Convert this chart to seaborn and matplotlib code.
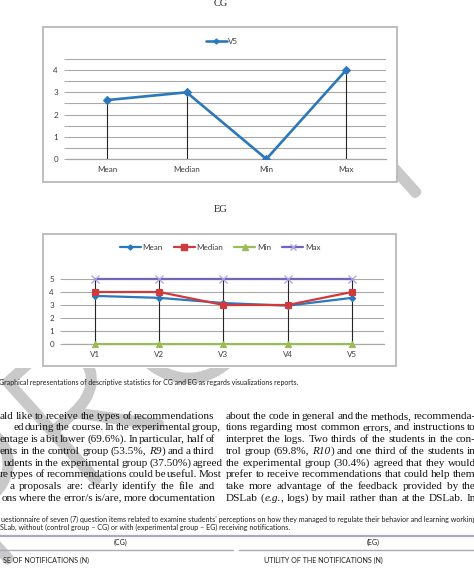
import numpy as np
import pandas as pd
import matplotlib
matplotlib.use("Agg")
import matplotlib.pyplot as plt
import matplotlib.patheffects as pe
import seaborn as sns
from matplotlib.patches import Rectangle, Polygon
from matplotlib.lines import Line2D

# ---------------- data ----------------
cg_categories = ["Mean", "Median", "Min", "Max"]
cg_v5 = [2.65, 3.0, 0.0, 4.0]
cg_yticks = [0, 1, 2, 3, 4]

eg_items = ["V1", "V2", "V3", "V4", "V5"]
eg_mean = [3.7, 3.55, 3.15, 2.95, 3.55]
eg_median = [4, 4, 3, 3, 4]
eg_min = [0, 0, 0, 0, 0]
eg_max = [5, 5, 5, 5, 5]
eg_yticks = [0, 1, 2, 3, 4, 5]

caption = "Graphical representations of descriptive statistics for CG and EG as regards visualizations reports."
left_col = [
    "ald like to receive the types of recommendations",
    "ed during the course. In the experimental group,",
    "entage is a bit lower (69.6%). In particular, half of",
    "ents in the control group (53.5%, *R9*) and a third",
    "udents in the experimental group (37.50%) agreed",
    "re types of recommendations could be useful. Most",
    "a proposals are: clearly identify the file and",
    "ons where the error/s is/are, more documentation",
]
right_col = [
    "about the code in general and the methods, recommenda-",
    "tions regarding most common errors, and instructions to",
    "interpret the logs. Two thirds of the students in the con-",
    "trol group (69.8%, *R10*) and one third of the students in",
    "the experimental group (30.4%) agreed that they would",
    "prefer to receive recommendations that could help them",
    "take more advantage of the feedback provided by the",
    "DSLab (*e.g.*, logs) by mail rather than at the DSLab. In",
]
table_caption = [
    "uestionnaire of seven (7) question items related to examine students' perceptions on how they managed to regulate their behavior and learning working",
    "SLab, without (control group \u2013 CG) or with (experimental group \u2013 EG) receiving notifications.",
]
table_groups = ["(CG)", "(EG)"]
table_heads = ["SE OF NOTIFICATIONS (N)", "UTILITY OF THE NOTIFICATIONS (N)"]
watermark_letters = ["P", "R", "O", "O", "F"]

# ---------------- setup ----------------
W, H = 474, 570
sns.set_theme(style="white")
plt.rcParams["font.family"] = ["Lato", "DejaVu Sans"]
fig = plt.figure(figsize=(W / 100, H / 100), dpi=100)
fig.patch.set_facecolor("white")
renderer = fig.canvas.get_renderer()


def fx(x):
    return x / W


def fy(y):
    return 1 - y / H


BLUE = "#2c78ba"
RED = "#d03a3c"
GREEN = "#9bbb59"
PURPLE = "#7262c2"
PURPLE_L = "#aaa2dc"
GRID = "#a9a9a9"
TXT = "#3c3c3c"
SERIF = ["Liberation Serif", "DejaVu Serif"]
SANS = ["Lato", "DejaVu Sans"]
WM_GRAY = "#c9c9c9"

# ---------------- watermark (only visible outside the figure image) ----------------
clip_poly = Polygon([(fx(397), fy(165)), (1, fy(165)), (1, 0), (0, 0),
                     (0, fy(368)), (fx(397), fy(368))], closed=True,
                    transform=fig.transFigure, facecolor="none", edgecolor="none")
ang_deg = 42
ang = np.deg2rad(ang_deg)
wm_size = 137
E = wm_size * 100 / 72
ux, uy = np.cos(ang), -np.sin(ang)
advances = [0.62, 0.66, 0.80, 0.80, 0.55]
f_stem = (sum(advances[:4]) + 0.08) * E
bx, by = 410.0 - f_stem * ux, 198.0 - f_stem * uy
cum = 0.0
for letter, adv in zip(watermark_letters, advances):
    px, py = bx + cum * ux, by + cum * uy
    t = fig.text(fx(px), fy(py), letter, fontsize=wm_size, fontweight="light",
                 color=WM_GRAY, rotation=ang_deg, rotation_mode="anchor",
                 ha="left", va="baseline", zorder=-5,
                 path_effects=[pe.withStroke(linewidth=6.5, foreground=WM_GRAY)])
    t.set_clip_path(clip_poly)
    cum += adv * E

# chart boxes
for (x0, y0, x1, y1) in [(43, 27, 397, 182), (43, 234, 396, 366)]:
    fig.patches.append(Rectangle((fx(x0), fy(y1)), (x1 - x0) / W, (y1 - y0) / H,
                                 transform=fig.transFigure, facecolor="white",
                                 edgecolor="#b9b9b9", lw=1.3, zorder=-3))

# titles
fig.text(fx(221), fy(3), "CG", family=SERIF, fontsize=7.5, ha="center", va="center", color="#222")
fig.text(fx(221), fy(209), "EG", family=SERIF, fontsize=7.5, ha="center", va="center", color="#222")


def style_axes(ax):
    ax.set_facecolor("none")
    for s in ["top", "right", "left"]:
        ax.spines[s].set_visible(False)
    ax.spines["bottom"].set_color(GRID)
    ax.spines["bottom"].set_linewidth(0.9)
    ax.tick_params(axis="y", length=2.5, width=0.7, color=GRID, labelsize=5.8,
                   labelcolor=TXT, pad=4, left=True)
    ax.tick_params(axis="x", length=0, labelsize=5.8, labelcolor=TXT, pad=5)
    ax.set_xlabel("")
    ax.set_ylabel("")


# ---------------- CG chart ----------------
ax1 = fig.add_axes([fx(67), fy(159), (386 - 67) / W, (159 - 59) / H])
ax1.vlines(np.arange(len(cg_v5)), 0, cg_v5, color="#262626", lw=0.8, zorder=1.5)
sns.lineplot(x=cg_categories, y=cg_v5, ax=ax1, sort=False, color=BLUE, lw=1.9,
             marker="D", markersize=4, markeredgecolor=BLUE, legend=False, zorder=3)
ax1.set_xlim(-0.5, len(cg_categories) - 0.5)
ax1.set_ylim(0, 4.5)
ax1.set_yticks(cg_yticks)
ax1.set_yticks(np.arange(0.5, 4.6, 1.0), minor=True)
ax1.grid(False)
ax1.yaxis.grid(True, which="both", color=GRID, lw=0.8)
style_axes(ax1)
ax1.tick_params(axis="y", which="minor", length=2.5, width=0.7, color=GRID, left=True)
ax1.legend(handles=[Line2D([], [], color=BLUE, lw=1.9, marker="D", markersize=2.5)],
           labels=["V5"], loc="center", bbox_to_anchor=(fx(222), fy(41)),
           bbox_transform=fig.transFigure, frameon=False, fontsize=5.8,
           handlelength=2.6, handletextpad=0.2, labelcolor=TXT)

# ---------------- EG chart ----------------
ax2 = fig.add_axes([fx(63), fy(344), (384 - 63) / W, (344 - 279) / H])
eg_df = pd.DataFrame({
    "item": eg_items * 4,
    "value": eg_mean + eg_median + eg_min + eg_max,
    "stat": ["Mean"] * 5 + ["Median"] * 5 + ["Min"] * 5 + ["Max"] * 5,
})
ax2.vlines(np.arange(len(eg_items)), 0, eg_max, color="#262626", lw=0.8, zorder=1.5)
series_style = {
    "Mean": dict(color=BLUE, marker="D", markersize=3.2, mec=BLUE, mew=0.8),
    "Median": dict(color=RED, marker="s", markersize=5.0, mec=RED, mew=0.8),
    "Min": dict(color=GREEN, marker="^", markersize=5.0, mec=GREEN, mew=0.8),
    "Max": dict(color=PURPLE, marker="x", markersize=6.0, mec=PURPLE_L, mew=0.9),
}
for k, stat in enumerate(["Mean", "Median", "Min", "Max"]):
    st = series_style[stat]
    sub = eg_df[eg_df["stat"] == stat]
    sns.lineplot(data=sub, x="item", y="value", ax=ax2, sort=False, color=st["color"],
                 lw=1.6, marker=st["marker"], markersize=st["markersize"],
                 markeredgecolor=st["mec"], markeredgewidth=st["mew"],
                 legend=False, zorder=3 + k, clip_on=False)
ax2.set_xlim(-0.5, len(eg_items) - 0.5)
ax2.set_ylim(0, 5)
ax2.set_yticks(eg_yticks)
ax2.grid(False)
ax2.yaxis.grid(True, color=GRID, lw=0.8)
style_axes(ax2)
handles = [Line2D([], [], color=series_style[s]["color"], lw=1.6, marker=series_style[s]["marker"],
                  markersize=series_style[s]["markersize"] * 0.8,
                  markeredgecolor=series_style[s]["mec"])
           for s in ["Mean", "Median", "Min", "Max"]]
ax2.legend(handles=handles, labels=["Mean", "Median", "Min", "Max"], loc="center",
           bbox_to_anchor=(fx(220), fy(247)), bbox_transform=fig.transFigure, ncol=4,
           frameon=False, fontsize=5.8, handlelength=2.6, handletextpad=0.2,
           columnspacing=1.4, labelcolor=TXT)


# ---------------- page text ----------------
def fit_size(text, width, family, base=6.0):
    t = fig.text(0, 0, text, fontsize=base, family=family)
    w = t.get_window_extent(renderer).width
    t.remove()
    return base * width / w


def put_justified(line, x0, x1, ybase, size, family, color="#141414"):
    items = []
    for word in line.split(" "):
        segs = []
        for i, part in enumerate(word.split("*")):
            if not part:
                continue
            t = fig.text(0, fy(ybase), part, fontsize=size, family=family,
                         style="italic" if i % 2 == 1 else "normal",
                         ha="left", va="baseline", color=color, zorder=3)
            segs.append((t, t.get_window_extent(renderer).width))
        items.append(segs)
    widths = [sum(w for _, w in segs) for segs in items]
    gap = (x1 - x0 - sum(widths)) / max(len(items) - 1, 1)
    gap = max(gap, 1.5)
    x = x0
    for segs, ws in zip(items, widths):
        xx = x
        for t, w in segs:
            t.set_x(fx(xx))
            xx += w
        x += ws + gap


cap_size = fit_size(caption, 301, SANS)
fig.text(fx(-1), fy(385), caption, fontsize=cap_size, family=SANS, ha="left",
         va="baseline", color="#1e1e1e", zorder=3)

line_y = [418.8, 430.5, 442.2, 453.9, 465.6, 477.3, 488.9, 500.6]
left_x0 = [0, 13, 0, 0, 4, 0, 10, 2]
body_size = 8.1
for ln, y, x0 in zip(left_col, line_y, left_x0):
    put_justified(ln, x0, 214.5, y, body_size, SERIF)
for ln, y in zip(right_col, line_y):
    put_justified(ln, 226, 476, y, body_size, SERIF)

tc_size = fit_size(table_caption[1], 290, SANS)
fig.text(fx(1), fy(522), table_caption[0], fontsize=tc_size, family=SANS, ha="left",
         va="baseline", color="#1e1e1e", zorder=3)
fig.text(fx(0), fy(530), table_caption[1], fontsize=tc_size, family=SANS, ha="left",
         va="baseline", color="#1e1e1e", zorder=3)

fig.add_artist(Line2D([0, 1], [fy(535.5), fy(535.5)], transform=fig.transFigure,
                      color="#a9a9bf", lw=1.6, zorder=2))
fig.add_artist(Line2D([0, fx(233)], [fy(549.5), fy(549.5)], transform=fig.transFigure,
                      color="#a9a9bf", lw=1.0, zorder=2))
fig.add_artist(Line2D([fx(239), 1], [fy(549.5), fy(549.5)], transform=fig.transFigure,
                      color="#a9a9bf", lw=1.0, zorder=2))
fig.text(fx(121), fy(545), table_groups[0], fontsize=tc_size, family=SANS, ha="center",
         va="baseline", color="#1e1e1e", zorder=3)
fig.text(fx(373), fy(545), table_groups[1], fontsize=tc_size, family=SANS, ha="center",
         va="baseline", color="#1e1e1e", zorder=3)
fig.text(fx(3), fy(563), table_heads[0], fontsize=tc_size, family=SANS, ha="left",
         va="baseline", color="#1e1e1e", zorder=3)
fig.text(fx(264), fy(563), table_heads[1], fontsize=tc_size, family=SANS, ha="left",
         va="baseline", color="#1e1e1e", zorder=3)

fig.savefig("out.png", dpi=100, facecolor="white")
